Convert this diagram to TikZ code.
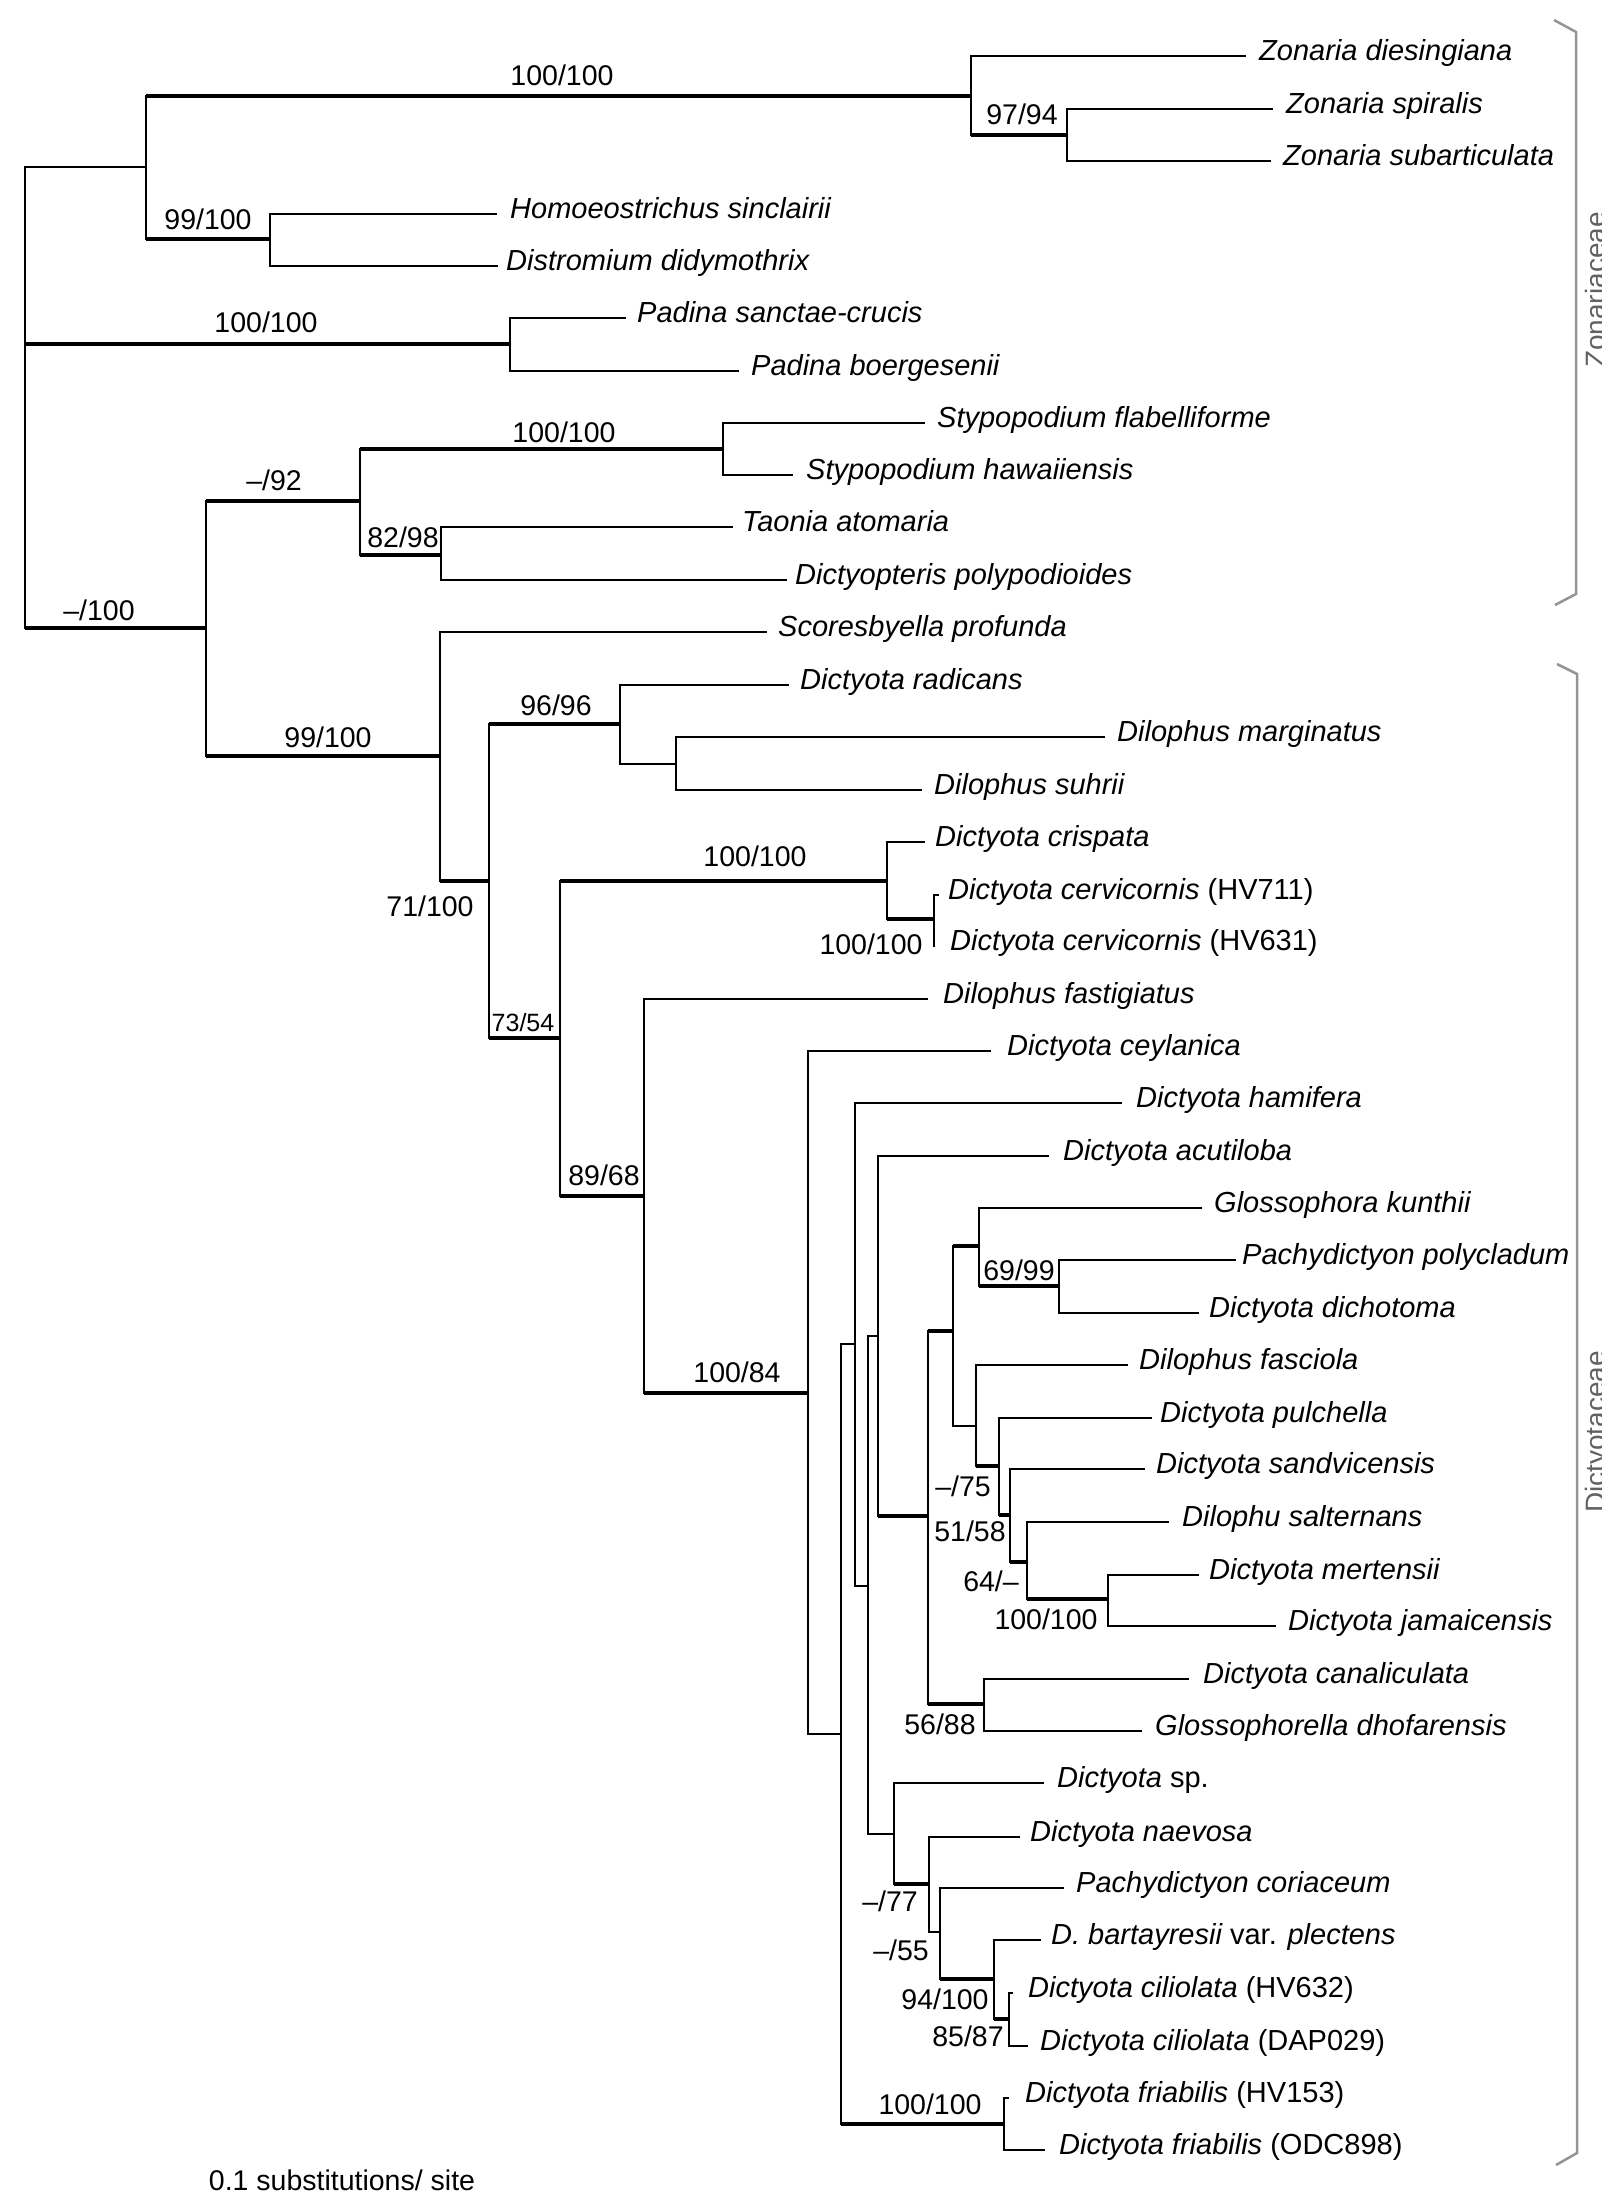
\documentclass[tikz,border=0pt]{standalone}
\usepackage{fontspec}
\setmainfont{Liberation Sans}
\newcommand\leaf[6]{%
  \coordinate (#1) at (#4,#3);
  \draw[thinbr] (#2 |- #1) -- (#1);
  \node[taxon] (t#1) at (#5,#3+4) {#6};}
\newcommand\edge[3]{\draw[#3] (#1 |- #2) -- (#2);}
\newcommand\vbar[3]{\draw[thinbr] (#1 |- #2) -- (#1 |- #3);}
\newcommand\bsl[3]{\node[bs] at (#1,#2+10) {#3};}
\begin{document}
\begin{tikzpicture}[x=1pt,y=-1pt,
  thinbr/.style={line width=2pt, line cap=rect},
  thickbr/.style={line width=4.5pt},
  taxon/.style={anchor=base west, inner sep=0pt, font=\fontsize{29}{34}\selectfont\itshape},
  bs/.style={anchor=base, inner sep=0pt, font=\fontsize{28.5}{34}\selectfont},
  famline/.style={line width=2.5pt, color=black!42},
  famtext/.style={rotate=90, anchor=base, inner sep=0pt, font=\fontsize{28}{32}\selectfont, text=black!62}]
\fill[white] (0,0) rectangle (1601,2206);
\useasboundingbox (0,0) rectangle (1601,2206);
% internal nodes
\coordinate (root) at (24.5,398);
\coordinate (A) at (146,167);
\coordinate (Z) at (971,96);
\coordinate (Z2) at (1067,135);
\coordinate (H) at (270,239);
\coordinate (P) at (510,344);
\coordinate (B) at (206,628);
\coordinate (C) at (360,501);
\coordinate (S) at (723,449);
\coordinate (T) at (441,555);
\coordinate (D) at (440,756);
\coordinate (E) at (489,881);
\coordinate (F) at (620,724);
\coordinate (G) at (676,764);
\coordinate (Hh) at (560,1038);
\coordinate (Cr) at (887,881);
\coordinate (Cv) at (934,919);
\coordinate (I) at (644,1196);
\coordinate (J) at (808,1393);
\coordinate (K) at (841,1734);
\coordinate (L) at (855,1344);
\coordinate (M) at (868,1586);
\coordinate (N) at (878,1336);
\coordinate (O) at (928,1516);
\coordinate (Q) at (953,1331);
\coordinate (R) at (979,1246);
\coordinate (R2) at (1059,1286);
\coordinate (U) at (976,1426);
\coordinate (V) at (999,1466);
\coordinate (W) at (1010,1515);
\coordinate (X) at (1027,1562);
\coordinate (Y) at (1108,1599);
\coordinate (Gp) at (984,1704);
\coordinate (Fr) at (1004,2124);
\coordinate (a1) at (894,1834);
\coordinate (a2) at (929,1884);
\coordinate (a3) at (940,1932);
\coordinate (a4) at (994,1979);
\coordinate (a5) at (1009,2019);
% leaves
\leaf{zdi}{Z}{56}{1245}{1259}{Zonaria diesingiana}
\leaf{zsp}{Z2}{109}{1272}{1286}{Zonaria spiralis}
\leaf{zsu}{Z2}{161}{1270}{1283}{Zonaria subarticulata}
\leaf{hom}{H}{214}{496}{510}{Homoeostrichus sinclairii}
\leaf{dis}{H}{266}{497}{506}{Distromium didymothrix}
\leaf{pas}{P}{318}{625}{637}{Padina sanctae-crucis}
\leaf{pab}{P}{371}{738}{751}{Padina boergesenii}
\leaf{sfl}{S}{423}{924}{937}{Stypopodium flabelliforme}
\leaf{sha}{S}{475}{792}{806}{Stypopodium hawaiiensis}
\leaf{tat}{T}{527}{732}{742}{Taonia atomaria}
\leaf{dpo}{T}{580}{786}{795}{Dictyopteris polypodioides}
\leaf{sco}{D}{632}{766}{778}{Scoresbyella profunda}
\leaf{dra}{F}{685}{788}{800}{Dictyota radicans}
\leaf{dma}{G}{737}{1104}{1117}{Dilophus marginatus}
\leaf{dsu}{G}{790}{921}{934}{Dilophus suhrii}
\leaf{dcr}{Cr}{842}{924}{935}{Dictyota crispata}
\leaf{cva}{Cv}{895}{938}{948}{Dictyota cervicornis {\upshape (HV711)}}
\leaf{cvb}{Cv}{946}{934}{950}{Dictyota cervicornis {\upshape (HV631)}}
\leaf{dfa}{I}{999}{927}{943}{Dilophus fastigiatus}
\leaf{dce}{J}{1051}{990}{1007}{Dictyota ceylanica}
\leaf{dha}{L}{1103}{1121}{1136}{Dictyota hamifera}
\leaf{dac}{N}{1156}{1048}{1063}{Dictyota acutiloba}
\leaf{gku}{R}{1208}{1201}{1214}{Glossophora kunthii}
\leaf{ppo}{R2}{1260}{1235}{1242}{Pachydictyon polycladum}
\leaf{ddi}{R2}{1313}{1198}{1209}{Dictyota dichotoma}
\leaf{dfs}{U}{1365}{1127}{1139}{Dilophus fasciola}
\leaf{dpu}{V}{1418}{1151}{1160}{Dictyota pulchella}
\leaf{dsa}{W}{1469}{1144}{1156}{Dictyota sandvicensis}
\leaf{dsl}{X}{1522}{1168}{1182}{Dilophu salternans}
\leaf{dme}{Y}{1575}{1198}{1209}{Dictyota mertensii}
\leaf{dja}{Y}{1626}{1275}{1288}{Dictyota jamaicensis}
\leaf{dca}{Gp}{1679}{1188}{1203}{Dictyota canaliculata}
\leaf{gdh}{Gp}{1731}{1141}{1155}{Glossophorella dhofarensis}
\leaf{dsp}{a1}{1783}{1043}{1057}{Dictyota {\upshape sp.}}
\leaf{dna}{a2}{1837}{1019}{1030}{Dictyota naevosa}
\leaf{pco}{a3}{1888}{1063}{1076}{Pachydictyon coriaceum}
\leaf{dba}{a4}{1940}{1040}{1051}{D. bartayresii {\upshape var.} plectens}
\leaf{dca1}{a5}{1993}{1012}{1028}{Dictyota ciliolata {\upshape (HV632)}}
\leaf{dca2}{a5}{2046}{1027}{1040}{Dictyota ciliolata {\upshape (DAP029)}}
\leaf{fr1}{Fr}{2098}{1008}{1025}{Dictyota friabilis {\upshape (HV153)}}
\leaf{fr2}{Fr}{2150}{1044}{1059}{Dictyota friabilis {\upshape (ODC898)}}
% internal edges
\edge{root}{A}{thinbr}
\edge{A}{Z}{thickbr}
\edge{Z}{Z2}{thickbr}
\edge{A}{H}{thickbr}
\edge{root}{P}{thickbr}
\edge{root}{B}{thickbr}
\edge{B}{C}{thickbr}
\edge{C}{S}{thickbr}
\edge{C}{T}{thickbr}
\edge{B}{D}{thickbr}
\edge{D}{E}{thickbr}
\edge{E}{F}{thickbr}
\edge{F}{G}{thinbr}
\edge{E}{Hh}{thickbr}
\edge{Hh}{Cr}{thickbr}
\edge{Cr}{Cv}{thickbr}
\edge{Hh}{I}{thickbr}
\edge{I}{J}{thickbr}
\edge{J}{K}{thinbr}
\edge{K}{L}{thinbr}
\edge{K}{Fr}{thickbr}
\edge{L}{M}{thinbr}
\edge{M}{N}{thinbr}
\edge{M}{a1}{thinbr}
\edge{N}{O}{thickbr}
\edge{O}{Q}{thickbr}
\edge{O}{Gp}{thickbr}
\edge{Q}{R}{thickbr}
\edge{Q}{U}{thinbr}
\edge{R}{R2}{thickbr}
\edge{U}{V}{thickbr}
\edge{V}{W}{thickbr}
\edge{W}{X}{thickbr}
\edge{X}{Y}{thickbr}
\edge{a1}{a2}{thickbr}
\edge{a2}{a3}{thinbr}
\edge{a3}{a4}{thickbr}
\edge{a4}{a5}{thickbr}
% vertical bars
\vbar{root}{A}{B}
\vbar{A}{Z}{H}
\vbar{Z}{zdi}{Z2}
\vbar{Z2}{zsp}{zsu}
\vbar{H}{hom}{dis}
\vbar{P}{pas}{pab}
\vbar{B}{C}{D}
\vbar{C}{S}{T}
\vbar{S}{sfl}{sha}
\vbar{T}{tat}{dpo}
\vbar{D}{sco}{E}
\vbar{E}{F}{Hh}
\vbar{F}{dra}{G}
\vbar{G}{dma}{dsu}
\vbar{Hh}{Cr}{I}
\vbar{Cr}{dcr}{Cv}
\vbar{Cv}{cva}{cvb}
\vbar{I}{dfa}{J}
\vbar{J}{dce}{K}
\vbar{K}{L}{Fr}
\vbar{L}{dha}{M}
\vbar{M}{N}{a1}
\vbar{N}{dac}{O}
\vbar{O}{Q}{Gp}
\vbar{Q}{R}{U}
\vbar{R}{gku}{R2}
\vbar{R2}{ppo}{ddi}
\vbar{U}{dfs}{V}
\vbar{V}{dpu}{W}
\vbar{W}{dsa}{X}
\vbar{X}{dsl}{Y}
\vbar{Y}{dme}{dja}
\vbar{Gp}{dca}{gdh}
\vbar{a1}{dsp}{a2}
\vbar{a2}{dna}{a3}
\vbar{a3}{pco}{a4}
\vbar{a4}{dba}{a5}
\vbar{a5}{dca1}{dca2}
\vbar{Fr}{fr1}{fr2}
% support labels
\bsl{562}{75}{100/100}
\bsl{1022}{114}{97/94}
\bsl{208}{219}{99/100}
\bsl{266}{322}{100/100}
\bsl{99}{610}{–/100}
\bsl{274}{480}{–/92}
\bsl{564}{432}{100/100}
\bsl{403}{537}{82/98}
\bsl{328}{737}{99/100}
\bsl{430}{906}{71/100}
\bsl{556}{705}{96/96}
\node[bs, font=\fontsize{25}{30}\selectfont] at (523,1031) {73/54};
\bsl{755}{856}{100/100}
\bsl{871}{944}{100/100}
\bsl{604}{1175}{89/68}
\bsl{737}{1372}{100/84}
\bsl{1019}{1270}{69/99}
\bsl{963}{1486}{–/75}
\bsl{970}{1531}{51/58}
\bsl{991}{1581}{64/–}
\bsl{1046}{1619}{100/100}
\bsl{940}{1724}{56/88}
\bsl{890}{1901}{–/77}
\bsl{901}{1950}{–/55}
\bsl{945}{1999}{94/100}
\bsl{968}{2036}{85/87}
\bsl{930}{2104}{100/100}
\node[bs] (scale) at (342,2190) {0.1 substitutions/ site};
% family brackets
\coordinate (zb1) at (1554,20);
\coordinate (zb2) at (1576,32);
\coordinate (zb3) at (1576,594);
\coordinate (zb4) at (1555,605);
\draw[famline] (zb1) -- (zb2) -- (zb3) -- (zb4);
\node[famtext] (zlab) at (1605,290) {Zonariaceae};
\coordinate (db1) at (1557,664);
\coordinate (db2) at (1577,674);
\coordinate (db3) at (1577,2153);
\coordinate (db4) at (1556,2165);
\draw[famline] (db1) -- (db2) -- (db3) -- (db4);
\node[famtext] (dlab) at (1605,1432) {Dictyotaceae};
\end{tikzpicture}
\end{document}
